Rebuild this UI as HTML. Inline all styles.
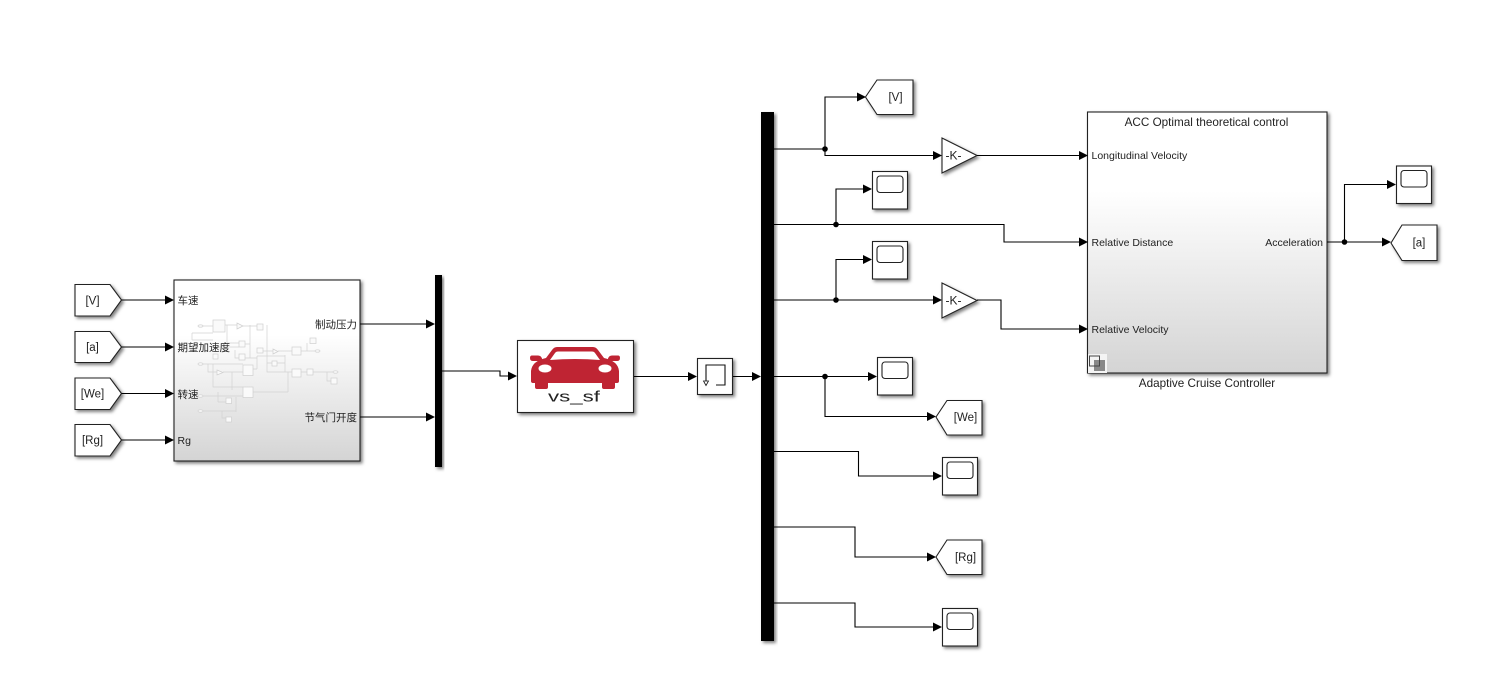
<!DOCTYPE html>
<html><head><meta charset="utf-8"><style>
html,body{margin:0;padding:0;background:#fff}
svg{display:block}
text{font-family:"Liberation Sans","Noto Sans CJK SC",sans-serif;font-size:10.5px;fill:#222}
.l{font-size:11.5px}
.w{fill:none;stroke:#000;stroke-width:1.1}
.b{fill:#fff;stroke:#222;stroke-width:1.1;filter:url(#s)}
.f{fill:none;stroke:#d2d2d2;stroke-width:.7}
.fb{fill:#fafafa;stroke:#cfcfcf;stroke-width:.7}
</style></head><body>
<svg width="1507" height="694" viewBox="0 0 1507 694" xmlns="http://www.w3.org/2000/svg">
<defs>
<filter id="s" x="-20%" y="-20%" width="150%" height="150%"><feDropShadow dx="2" dy="2" stdDeviation="1.5" flood-color="#000" flood-opacity=".5"/></filter>
<linearGradient id="g" x1="0" y1="0" x2="0" y2="1"><stop offset="0" stop-color="#fff"/><stop offset=".3" stop-color="#fff"/><stop offset="1" stop-color="#d4d4d4"/></linearGradient>
<g id="scope"><rect class="b" x="0.5" y="0.5" width="35" height="37.5"/><rect x="5" y="5" width="26" height="16.500" rx="3" fill="#fff" stroke="#222" stroke-width="1.100"/></g>
</defs>
<rect width="1507" height="694" fill="#fff"/>

<!-- left from blocks -->
<polygon class="b" points="75,284.5 110,284.5 121.5,300 110,316 75,316"/>
<polygon class="b" points="75,331.5 110,331.5 121.5,347 110,362.5 75,362.5"/>
<polygon class="b" points="75,378 110,378 121.5,393.5 110,409.5 75,409.5"/>
<polygon class="b" points="75,424.5 110,424.5 121.5,440 110,456 75,456"/>
<text class="l" x="92.500" y="304.500" text-anchor="middle">[V]</text>
<text class="l" x="92.500" y="351" text-anchor="middle">[a]</text>
<text class="l" x="92.500" y="397.500" text-anchor="middle">[We]</text>
<text class="l" x="92.500" y="444" text-anchor="middle">[Rg]</text>

<!-- left subsystem -->
<rect x="174" y="280" width="186" height="181" fill="url(#g)" stroke="#222" stroke-width="1.100" filter="url(#s)"/>
<g>
<path class="f" d="M203,326H213M225,325H237M243,326H257M192,333V340M192,333H213M192,340H213M227,325V343H239M235,350V358H239M245,344H250M245,358H257M250,325V358M262,351H273M278,351H292M267,325V372H292M203,364H243M213,364V387H243M223,372H243M208,364V372H217M232,372V390M253,369H257M257,356V369M257,356H285M285,355V372M277,363H285M272,363H267M253,392H288M288,372V392M301,351H315M307,343V351M301,372H307M313,372H333M327,372V381H331M203,396H243M218,392V402M218,402H226M236,397V412M203,411H236M222,411V418H226M214,347H239"/>
<rect class="fb" x="213" y="320" width="12" height="12"/><rect class="fb" x="257" y="324" width="6" height="6"/><rect class="fb" x="239" y="341" width="6" height="6"/><rect class="fb" x="239" y="354" width="6" height="6"/><rect class="fb" x="257" y="348" width="6" height="5"/><rect class="fb" x="292" y="347" width="9" height="8"/><rect class="fb" x="310" y="338" width="6" height="5.500"/><rect class="fb" x="272" y="361" width="5" height="5"/><rect class="fb" x="292" y="369" width="9" height="8"/><rect class="fb" x="307" y="369" width="6" height="6"/><rect class="fb" x="331" y="378" width="6" height="6"/><rect class="fb" x="213" y="354" width="5" height="5"/><rect class="fb" x="243" y="365" width="10" height="10.500"/><rect class="fb" x="243" y="387" width="10" height="10.500"/><rect class="fb" x="226" y="398" width="5.500" height="5.500"/><rect class="fb" x="226" y="417" width="5.500" height="5"/>
<polygon class="fb" points="237,323 243,326 237,329"/><polygon class="fb" points="273,349 278,351.500 273,354"/><polygon class="fb" points="217,370 223,372.500 217,375"/>
<ellipse class="fb" cx="200.500" cy="326" rx="2.500" ry="1.200"/><ellipse class="fb" cx="200.500" cy="364" rx="2.500" ry="1.200"/><ellipse class="fb" cx="200.500" cy="396" rx="2.500" ry="1.200"/><ellipse class="fb" cx="200.500" cy="411" rx="2.500" ry="1.200"/><ellipse class="fb" cx="317.500" cy="351" rx="2.500" ry="1.200"/><ellipse class="fb" cx="335.500" cy="372" rx="2.500" ry="1.200"/>
</g>
<text x="177.5" y="304">车速</text>
<text x="177.5" y="351">期望加速度</text>
<text x="177.5" y="398">转速</text>
<text x="177.5" y="444">Rg</text>
<text x="357" y="328" text-anchor="end">制动压力</text>
<text x="357" y="421" text-anchor="end">节气门开度</text>

<!-- muxes -->
<rect x="435" y="275" width="7" height="192" fill="#000" filter="url(#s)"/>
<rect x="761" y="112" width="13" height="529" fill="#000" filter="url(#s)"/>

<!-- car block -->
<rect class="b" x="517.5" y="340.5" width="116" height="72"/>
<g fill="#bf2433">
<path d="M530,358q0,-2.500 2,-2.500h6q3,0 4,3v2.500h-9q-3,0 -3,-3zM620,358q0,-2.500 -2,-2.500h-6q-3,0 -4,3v2.500h9q3,0 3,-3z"/>
<path d="M546,358l6,-8q2,-3 5,-3h36q3,0 5,3l6,8q14,3 15,13v10q0,2 -2,2h-2v4q0,2 -2,2h-9q-2,0 -2,-2v-4h-54v4q0,2 -2,2h-9q-2,0 -2,-2v-4h-2q-2,0 -2,-2v-10q1,-10 15,-13z"/>
</g>
<path d="M550,360l5,-7q1,-1.500 3,-1.500h34q2,0 3,1.500l5,7q-25,-2 -50,0z" fill="#fff"/>
<ellipse cx="545" cy="368.500" rx="6.500" ry="4" fill="#fff"/><ellipse cx="605" cy="368.500" rx="6.500" ry="4" fill="#fff"/>
<text x="548" y="401.500" textLength="52" lengthAdjust="spacingAndGlyphs" style="font-size:14.500px">vs_sf</text>

<!-- small block -->
<rect class="b" x="697.5" y="358.5" width="35" height="36"/>
<path d="M706,381V365H725V385H716" fill="none" stroke="#111" stroke-width="1.100"/>
<polygon points="703.5,381 708.5,381 706,385.5" fill="#fff" stroke="#111" stroke-width=".8"/>

<!-- gotos right -->
<polygon class="b" points="865.5,97 877,80 913,80 913,114.5 877,114.5"/>
<text class="l" x="895.5" y="101" text-anchor="middle">[V]</text>
<polygon class="b" points="936,417 947,400.5 982,400.5 982,435 947,435"/>
<text class="l" x="965.5" y="421" text-anchor="middle">[We]</text>
<polygon class="b" points="936,557 947,540 982,540 982,574.5 947,574.5"/>
<text class="l" x="965.5" y="561" text-anchor="middle">[Rg]</text>
<polygon class="b" points="1391,243 1402,225 1437,225 1437,260.5 1402,260.5"/>
<text class="l" x="1419" y="246.500" text-anchor="middle">[a]</text>

<!-- gains -->
<polygon class="b" points="942,138 977,155.5 942,173"/>
<polygon class="b" points="942,283 977,300.5 942,318"/>
<text x="953.500" y="159.5" text-anchor="middle" style="font-size:12px">-K-</text>
<text x="953.500" y="304.5" text-anchor="middle" style="font-size:12px">-K-</text>

<!-- scopes -->
<use href="#scope" x="872" y="171"/>
<use href="#scope" x="872" y="241"/>
<use href="#scope" x="877" y="357"/>
<use href="#scope" x="942" y="457"/>
<use href="#scope" x="942" y="608"/>
<use href="#scope" x="1396" y="165.5"/>

<!-- ACC subsystem -->
<rect x="1087.5" y="112" width="239.5" height="261" fill="url(#g)" stroke="#222" stroke-width="1.100" filter="url(#s)"/>
<text x="1206.500" y="126" text-anchor="middle" style="font-size:11.700px">ACC Optimal theoretical control</text>
<text x="1091.5" y="159">Longitudinal Velocity</text>
<text x="1091.5" y="246">Relative Distance</text>
<text x="1091.5" y="333">Relative Velocity</text>
<text x="1323" y="246" text-anchor="end">Acceleration</text>
<text x="1207" y="387" text-anchor="middle" style="font-size:11.700px">Adaptive Cruise Controller</text>
<rect x="1088" y="354" width="19" height="19" fill="#f4f4f4"/>
<rect x="1094" y="360" width="11" height="11" fill="#888"/>
<rect x="1089.5" y="356" width="10" height="10" fill="none" stroke="#444" stroke-width="1"/>

<!-- wires -->
<g class="w">
<path d="M121.5,300H167M121.5,347H167M121.5,393.5H167M121.5,440H167"/>
<path d="M360,324H428M360,417H428"/>
<path d="M442,371H500V376H510"/>
<path d="M634,376.5H690M733,376.5H754"/>
<path d="M774,149H825V97H859M825,149V155.5H935"/>
<path d="M977,155.5H1080"/>
<path d="M774,224.5H1004V242H1084M836,224.5V189H865"/>
<path d="M774,300H935M836,300V259.500H865"/>
<path d="M977,300H1001V329H1084"/>
<path d="M774,376.500H870M825,376.500V416.500H929"/>
<path d="M774,451.500H858.500V476H935"/>
<path d="M774,527H855V557H929"/>
<path d="M774,603H855V627H935"/>
<path d="M1327,242H1384M1344.500,242V184.500H1389"/>
</g>
<g fill="#000">
<circle cx="825" cy="149" r="2.800"/><circle cx="836" cy="224.500" r="2.800"/><circle cx="836" cy="300" r="2.800"/><circle cx="825" cy="376.500" r="2.800"/><circle cx="1344.500" cy="242" r="2.800"/>
<polygon points="165,295.500 174,300 165,304.500"/><polygon points="165,342.500 174,347 165,351.500"/><polygon points="165,389 174,393.500 165,398"/><polygon points="165,435.500 174,440 165,444.500"/>
<polygon points="426,319.500 435,324 426,328.500"/><polygon points="426,412.500 435,417 426,421.500"/>
<polygon points="508,371.500 517,376 508,380.500"/><polygon points="688,372 697,376.500 688,381"/><polygon points="752,372 761,376.500 752,381"/>
<polygon points="857,92.500 866,97 857,101.500"/><polygon points="933,151 942,155.500 933,160"/><polygon points="863,184.500 872,189 863,193.500"/><polygon points="863,255 872,259.500 863,264"/><polygon points="933,295.500 942,300 933,304.500"/><polygon points="868,372 877,376.500 868,381"/><polygon points="927,412 936,416.500 927,421"/><polygon points="933,471.500 942,476 933,480.500"/><polygon points="927,552.500 936,557 927,561.500"/><polygon points="933,622.500 942,627 933,631.500"/>
<polygon points="1079,151 1088,155.500 1079,160"/><polygon points="1079,237.500 1088,242 1079,246.500"/><polygon points="1079,324.500 1088,329 1079,333.500"/>
<polygon points="1387,180 1396,184.500 1387,189"/><polygon points="1382,237.500 1391,242 1382,246.500"/>
</g>
</svg>
</body></html>
